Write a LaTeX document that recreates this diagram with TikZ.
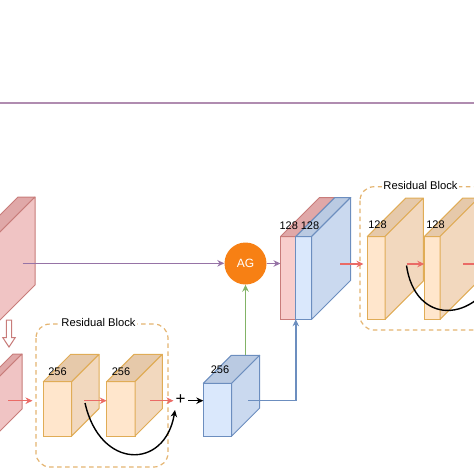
\documentclass[tikz,border=0pt]{standalone}
\usepackage{fontspec}
\setmainfont{Liberation Sans}
\usetikzlibrary{arrows.meta}
\definecolor{ORF}{RGB}{255,230,204}
\definecolor{ORS}{RGB}{242,216,190}
\definecolor{ORT}{RGB}{230,201,170}
\definecolor{ORD}{RGB}{224,172,86}
\definecolor{BLF}{RGB}{218,232,252}
\definecolor{BLS}{RGB}{202,217,239}
\definecolor{BLT}{RGB}{186,202,226}
\definecolor{BLD}{RGB}{108,142,191}
\definecolor{PKF}{RGB}{248,206,204}
\definecolor{PKS}{RGB}{240,196,196}
\definecolor{PKT}{RGB}{224,168,168}
\definecolor{PKD}{RGB}{200,124,122}
\definecolor{redarrow}{RGB}{234,107,102}
\definecolor{purplearrow}{RGB}{150,115,166}
\definecolor{greenarrow}{RGB}{130,179,102}
\definecolor{agorange}{RGB}{247,128,20}
\definecolor{dashbox}{RGB}{228,180,112}
\definecolor{topline}{RGB}{176,140,176}
\newcommand\cuboid[7]{%
  \node[draw=#7D, fill=#7F, line width=1pt, minimum width=#4pt, minimum height=#5pt,
        inner sep=0pt, outer sep=0pt, anchor=north west] (#1) at (#2,#3) {};
  \filldraw[draw=#7D, fill=#7T, line width=1pt, line join=round]
    (#1.north west) -- ++(#6,-#6) -- ++(#4,0) -- (#1.north east) -- cycle;
  \filldraw[draw=#7D, fill=#7S, line width=1pt, line join=round]
    (#1.north east) -- ++(#6,-#6) -- ++(0,#5) -- (#1.south east) -- cycle;
}
\tikzset{
  tip/.style={-{Stealth[length=7pt,width=6.5pt]}},
  redarr/.style={draw=redarrow, line width=1.4pt, tip},
  blkarr/.style={draw=black, line width=1.4pt, tip},
  resbox/.style={draw=dashbox, line width=1.2pt, dash pattern=on 4.5pt off 3.5pt, rounded corners=14pt},
  reslabel/.style={fill=white, inner sep=1.5pt, font=\fontsize{11.2}{13}\selectfont},
  chlabel/.style={inner sep=0pt, font=\fontsize{11}{13}\selectfont},
}
\begin{document}
\begin{tikzpicture}[x=1pt,y=-1pt]
\useasboundingbox (0,0) rectangle (474,474);
\clip (0,0) rectangle (474,474);
% top line
\coordinate (tl) at (0,102.7);
\coordinate (tr) at (474,102.7);
\draw[topline, line width=1.8pt] (tl) -- (tr);
% residual boxes
\draw[resbox] (36,324) rectangle (168,467);
\node[reslabel] (rb1) at (98.5,322.7) {Residual Block};
\draw[resbox] (360,186.7) rectangle (540,330);
\node[reslabel] (rb2) at (420.5,185.7) {Residual Block};
% cubes
\cuboid{pinkbig}{-21}{236}{17}{88}{39}{PK}
\cuboid{pinksmall}{-14}{381}{9}{55}{27}{PK}
\cuboid{oa}{43.3}{381.7}{28.4}{54.3}{27.3}{OR}
\cuboid{ob}{106.7}{381.7}{28.3}{54.3}{27.3}{OR}
\cuboid{bl}{203.3}{383.3}{28.4}{52.7}{28}{BL}
\cuboid{cpink}{280.5}{236.5}{15.3}{82.8}{39}{PK}
\cuboid{cblue}{295.8}{236.5}{15.9}{82.8}{39}{BL}
\cuboid{oc}{367.3}{236.5}{17.7}{82.8}{38.3}{OR}
\cuboid{od}{424.3}{236.5}{15.7}{82.8}{38.3}{OR}
% channel labels
\node[chlabel] (l1) at (57.5,372) {256};
\node[chlabel] (l2) at (121,371.5) {256};
\node[chlabel] (l3) at (220,370) {256};
\node[chlabel] (l4) at (288.8,226) {128};
\node[chlabel] (l5) at (310,226) {128};
\node[chlabel] (l6) at (377.5,225) {128};
\node[chlabel] (l7) at (435.5,225) {128};
% AG
\node[circle, fill=agorange, minimum size=42pt, inner sep=0pt, text=white,
      font=\fontsize{12}{14}\selectfont] (AG) at (245.5,263.5) {AG};
% down hollow arrow
\draw[draw=PKD, fill=white, line width=1pt, line join=miter]
  (6.3,320) -- (11.7,320) -- (11.7,337.5) -- (15.3,337.5) -- (9,347)
  -- (2.7,337.5) -- (6.3,337.5) -- cycle;
% plus sign
\node[inner sep=0pt, font=\fontsize{17}{17}\selectfont] (plus) at (180.5,400) {+};
% connectors
\coordinate (ps) at (22.7,263.3);
\draw[draw=purplearrow, line width=1.4pt, tip] (ps) -- (ps -| AG.west);
\draw[draw=purplearrow, line width=1.4pt, tip] (AG.east) -- (AG.east -| cpink.west);
\coordinate (gs) at (245.5,355);
\draw[draw=greenarrow, line width=1.4pt, tip] (gs) -- (AG.south);
\coordinate (bs) at (248.3,400.7);
\draw[draw=BLD, line width=1.4pt, tip] (bs) -| (cpink.south east);
\coordinate (r1s) at (8,400.7);
\coordinate (r1e) at (32.5,400.7);
\draw[redarr] (r1s) -- (r1e);
\coordinate (r2s) at (84,400.7);
\draw[redarr] (r2s) -- (r2s -| ob.west);
\coordinate (r3s) at (150,400.7);
\coordinate (r3e) at (173.5,400.7);
\draw[redarr] (r3s) -- (r3e);
\coordinate (ks) at (188,400.7);
\draw[blkarr] (ks) -- (ks -| bl.west);
\coordinate (c1s) at (85,403);
\coordinate (c1e) at (175,410);
\draw[blkarr] (c1s) .. controls (100,470) and (165,470) .. (c1e);
\coordinate (r4s) at (340,264);
\coordinate (r4e) at (363.5,264);
\draw[redarr] (r4s) -- (r4e);
\coordinate (r5s) at (406.5,264);
\draw[redarr] (r5s) -- (r5s -| od.west);
\coordinate (r6s) at (463,264);
\coordinate (r6e) at (480,264);
\draw[draw=redarrow, line width=1.4pt] (r6s) -- (r6e);
\coordinate (c2s) at (406.5,265.5);
\coordinate (c2e) at (500,268);
\draw[black, line width=1.4pt] (c2s) .. controls (415,325) and (475,325) .. (c2e);
\end{tikzpicture}
\end{document}
